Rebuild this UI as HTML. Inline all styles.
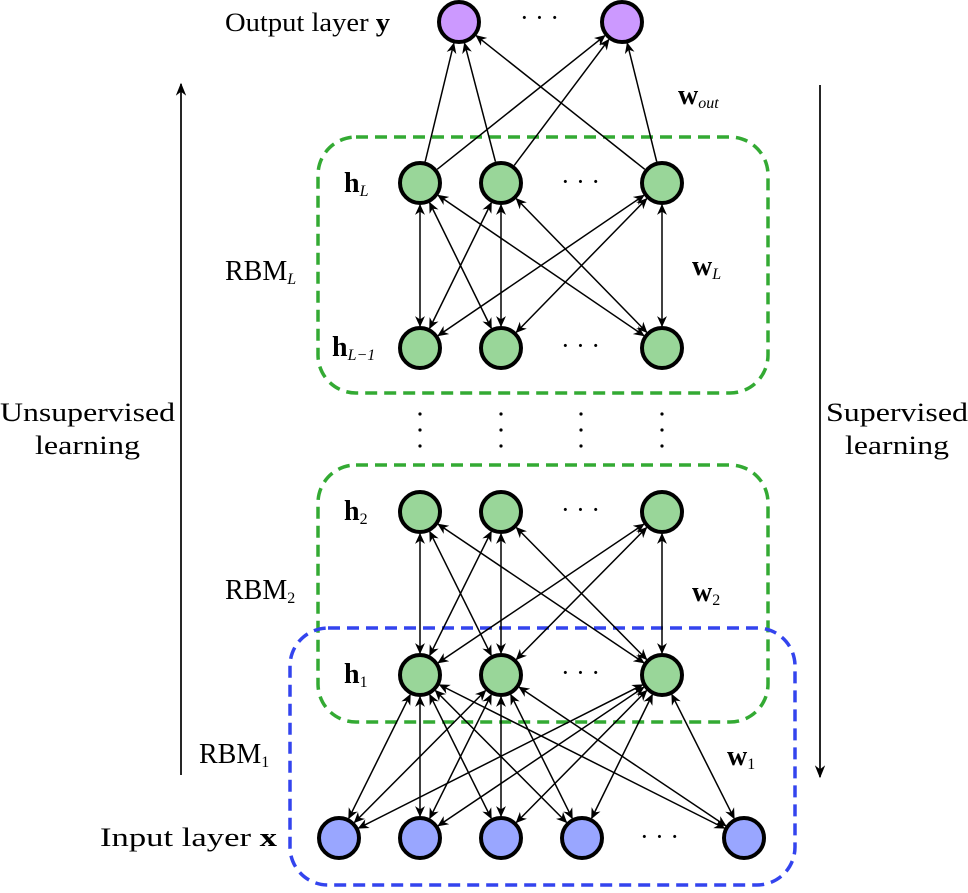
<!DOCTYPE html>
<html><head><style>
body{margin:0;background:#fff}
svg text{font-family:"Liberation Serif",serif;font-size:26px;fill:#000}
svg text.l{font-size:28px}
</style></head><body>
<svg id="s" width="968" height="888" xmlns="http://www.w3.org/2000/svg">
<defs>
<marker id="a" viewBox="0 0 10 10" refX="9" refY="5" markerWidth="11" markerHeight="11" orient="auto-start-reverse" markerUnits="userSpaceOnUse"><path d="M0,0.5 L10,5 L0,9.5 L3,5z" fill="#000"/></marker>
<marker id="b" viewBox="0 0 10 10" refX="9" refY="5" markerWidth="13" markerHeight="13" orient="auto-start-reverse" markerUnits="userSpaceOnUse"><path d="M0,1 L10,5 L0,9 L3,5z" fill="#000"/></marker>
</defs>
<rect x="318" y="137" width="450" height="256" rx="38" fill="none" stroke="#33aa33" stroke-width="3.5" stroke-dasharray="12,7"/>
<rect x="318" y="465" width="450" height="257" rx="38" fill="none" stroke="#33aa33" stroke-width="3.5" stroke-dasharray="12,7"/>
<rect x="290" y="628" width="505" height="257" rx="38" fill="none" stroke="#3344ee" stroke-width="3.5" stroke-dasharray="12,7"/>
<g id="edges" stroke="#000" stroke-width="1.5"></g>
<g id="nodes" stroke="#000" stroke-width="4"></g>
<line x1="181" y1="775" x2="181" y2="84" stroke="#000" stroke-width="1.7" marker-end="url(#b)"/>
<line x1="820" y1="85" x2="820" y2="777" stroke="#000" stroke-width="1.7" marker-end="url(#b)"/>
<text x="225" y="31" textLength="165" lengthAdjust="spacingAndGlyphs">Output layer <tspan font-weight="bold">y</tspan></text>
<text x="520" y="26" font-size="22">· · ·</text>
<text x="561" y="190" font-size="22">· · ·</text>
<text x="561" y="354" font-size="22">· · ·</text>
<text x="561" y="518" font-size="22">· · ·</text>
<text x="561" y="681" font-size="22">· · ·</text>
<text x="640" y="845" font-size="22">· · ·</text>
<text class="l" x="678" y="104" font-weight="bold">w<tspan font-size="16" font-style="italic" font-weight="normal" dy="4">out</tspan></text>
<text class="l" x="344" y="192" font-weight="bold">h<tspan font-size="16" font-style="italic" font-weight="normal" dy="4">L</tspan></text>
<text class="l" x="332" y="356" font-weight="bold">h<tspan font-size="16" font-style="italic" font-weight="normal" dy="4">L−1</tspan></text>
<text class="l" x="344" y="520" font-weight="bold">h<tspan font-size="16" font-weight="normal" dy="4">2</tspan></text>
<text class="l" x="344" y="683" font-weight="bold">h<tspan font-size="16" font-weight="normal" dy="4">1</tspan></text>
<text class="l" x="225" y="280">RBM<tspan font-size="16" font-style="italic" dy="4">L</tspan></text>
<text class="l" x="225" y="599">RBM<tspan font-size="16" dy="4">2</tspan></text>
<text class="l" x="199" y="763">RBM<tspan font-size="16" dy="4">1</tspan></text>
<text class="l" x="692" y="275" font-weight="bold">w<tspan font-size="16" font-style="italic" font-weight="normal" dy="4">L</tspan></text>
<text class="l" x="692" y="601" font-weight="bold">w<tspan font-size="16" font-weight="normal" dy="4">2</tspan></text>
<text class="l" x="727" y="765" font-weight="bold">w<tspan font-size="16" font-weight="normal" dy="4">1</tspan></text>
<text x="100" y="846" textLength="177" lengthAdjust="spacingAndGlyphs">Input layer <tspan font-weight="bold">x</tspan></text>
<text x="0" y="421" textLength="175" lengthAdjust="spacingAndGlyphs">Unsupervised</text>
<text x="35" y="454" textLength="105" lengthAdjust="spacingAndGlyphs">learning</text>
<text x="826" y="421" textLength="142" lengthAdjust="spacingAndGlyphs">Supervised</text>
<text x="845" y="454" textLength="104" lengthAdjust="spacingAndGlyphs">learning</text>
<g fill="#000">
<circle cx="420" cy="414" r="1.6"/><circle cx="420" cy="430" r="1.6"/><circle cx="420" cy="446" r="1.6"/>
<circle cx="501" cy="414" r="1.6"/><circle cx="501" cy="430" r="1.6"/><circle cx="501" cy="446" r="1.6"/>
<circle cx="581" cy="414" r="1.6"/><circle cx="581" cy="430" r="1.6"/><circle cx="581" cy="446" r="1.6"/>
<circle cx="662" cy="414" r="1.6"/><circle cx="662" cy="430" r="1.6"/><circle cx="662" cy="446" r="1.6"/>
</g>
</svg>
<script>
var NS="http://www.w3.org/2000/svg",R=20;
var H=[420,501,662],out=[459,622],inp=[339,420,501,582,744];
var E=document.getElementById("edges"),N=document.getElementById("nodes");
function edge(x1,y1,x2,y2,both){var dx=x2-x1,dy=y2-y1,d=Math.hypot(dx,dy),ux=dx/d,uy=dy/d;
var l=document.createElementNS(NS,"line");
l.setAttribute("x1",x1+ux*(R+2));l.setAttribute("y1",y1+uy*(R+2));
l.setAttribute("x2",x2-ux*(R+2));l.setAttribute("y2",y2-uy*(R+2));
l.setAttribute("marker-end","url(#a)");if(both)l.setAttribute("marker-start","url(#a)");E.appendChild(l);}
function node(x,y,c){var n=document.createElementNS(NS,"circle");n.setAttribute("cx",x);n.setAttribute("cy",y);n.setAttribute("r",R);n.setAttribute("fill",c);N.appendChild(n);}
H.forEach(a=>out.forEach(b=>edge(a,183,b,22,false)));
H.forEach(a=>H.forEach(b=>edge(a,348,b,183,true)));
H.forEach(a=>H.forEach(b=>edge(a,675,b,512,true)));
inp.forEach(a=>H.forEach(b=>edge(a,838,b,675,true)));
out.forEach(x=>node(x,22,"#cc99ff"));
[183,348,512,675].forEach(y=>H.forEach(x=>node(x,y,"#99d699")));
inp.forEach(x=>node(x,838,"#99a6ff"));
</script>
</body></html>
